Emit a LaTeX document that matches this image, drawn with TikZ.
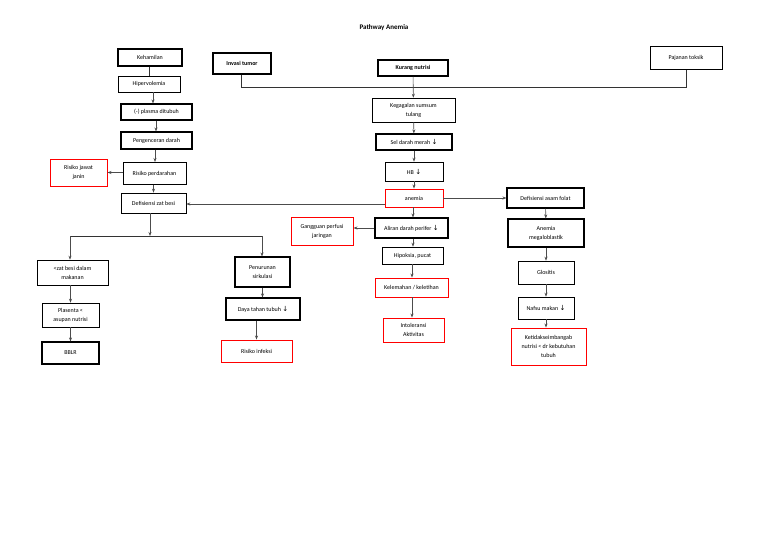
\documentclass[tikz,border=0pt]{standalone}
\usepackage{fontspec}
\setmainfont{Carlito}
\newfontfamily\dvs{DejaVu Sans}
\usetikzlibrary{arrows.meta}
\newcommand{\dn}{{\dvs\scriptsize ↓}}
\begin{document}
\begin{tikzpicture}[x=1pt,y=-1pt,
  bx/.style={draw,line width=0.6pt,align=center,font=\fontsize{6}{9}\selectfont,inner sep=1pt},
  tk/.style={bx,line width=1.1pt},
  rd/.style={bx,draw=red,line width=0.9pt},
  ar/.style={-{Stealth[length=4pt,width=3pt]},draw=black!70,line width=0.6pt},
  ln/.style={draw=black!80,line width=0.7pt}]
\useasboundingbox (0,0) rectangle (768,543);
\node[font=\bfseries\fontsize{7}{8}\selectfont] (title) at (384,28) {Pathway Anemia};
% left column
\node[tk,minimum width=64,minimum height=17] (keh) at (150,57.5) {Kehamilan};
\node[bx,minimum width=62,minimum height=16] (hip) at (149,84) {Hipervolemia};
\node[tk,minimum width=71,minimum height=16] (pla) at (156.5,112) {(-) plasma ditubuh};
\node[tk,minimum width=71,minimum height=17] (pen) at (156.5,140.5) {Pengenceran darah};
\node[bx,minimum width=63,minimum height=22,anchor=north,text height=5pt] (rpd) at (154.5,162) {Risiko perdarahan};
\node[rd,minimum width=57,minimum height=27] (rjj) at (78.5,172.5) {Risiko jawat\\janin};
\node[bx,minimum width=65,minimum height=20] (dzb) at (153.5,203) {Defisiensi zat besi};
\node[bx,minimum width=71,minimum height=25] (zat) at (72.5,272.5) {<zat besi dalam\\makanan};
\node[bx,minimum width=57,minimum height=24] (pls) at (70.5,315) {Plasenta <\\asupan nutrisi};
\node[tk,minimum width=57,minimum height=22] (bblr) at (70.5,353) {BBLR};
\node[tk,minimum width=55,minimum height=30] (psk) at (262.5,272) {Penurunan\\sirkulasi};
\node[tk,minimum width=74,minimum height=22] (dtt) at (263,309) {Daya tahan tubuh \dn};
\node[rd,minimum width=71,minimum height=22] (rif) at (256.5,351) {Risiko infeksi};
% top causes
\node[tk,minimum width=58,minimum height=21,font=\bfseries\fontsize{6}{8}\selectfont] (inv) at (242,63.5) {Invasi tumor};
\node[tk,minimum width=70,minimum height=16,font=\bfseries\fontsize{6}{8}\selectfont] (kur) at (413,68) {Kurang nutrisi};
\node[bx,minimum width=72,minimum height=23,anchor=north,text height=5pt] (paj) at (686,46) {Pajanan toksik};
% center column
\node[bx,minimum width=83,minimum height=24] (keg) at (413.5,110) {Kegagalan sumsum\\tulang};
\node[tk,minimum width=76,minimum height=16] (sdm) at (414,142) {Sel darah merah \dn};
\node[bx,minimum width=58,minimum height=19] (hb) at (414,171.5) {HB \dn};
\node[rd,minimum width=58,minimum height=18] (ane) at (414,198) {anemia};
\node[tk,minimum width=73,minimum height=20] (adp) at (411.5,228) {Aliran darah perifer \dn};
\node[draw=red,line width=0.9pt,align=center,font=\fontsize{6}{9}\selectfont,inner sep=1pt,minimum width=62,minimum height=28] (gpj) at (322,231) {Gangguan perfusi\\jaringan};
\node[bx,minimum width=61,minimum height=17] (hpk) at (412.5,255.5) {Hipoksia, pucat};
\node[rd,minimum width=73,minimum height=19] (kel) at (411.5,287.5) {Kelemahan / keletihan};
\node[rd,minimum width=61,minimum height=24] (int) at (413.5,330) {Intoleransi\\Aktivitas};
% right column
\node[tk,minimum width=77,minimum height=20] (daf) at (545.5,198) {Defisiensi asam folat};
\node[tk,minimum width=76,minimum height=28] (meg) at (546,233) {Anemia\\megaloblastik};
\node[bx,minimum width=56,minimum height=23] (glo) at (546,272.5) {Glositis};
\node[bx,minimum width=56,minimum height=22] (naf) at (546,308) {Nafsu makan \dn};
\node[rd,minimum width=75,minimum height=37] (ket) at (548.5,346.5) {Ketidakseimbangab\\nutrisi < dr kebutuhan\\tubuh};
% connectors
\draw[ln] (keh.south -| 149,0) -- (hip);
\draw[ar] (hip.south -| 153,0) -- (pla.north -| 153,0);
\draw[ar] (pla.south -| 156,0) -- (pen.north -| 156,0);
\draw[ar] (pen.south -| 155,0) -- (rpd.north -| 155,0);
\draw[ar] (rpd.west |- rjj) -- (rjj);
\draw[ar] (rpd.south -| 153.5,0) -- (dzb);
\coordinate (br) at (150,236);
\draw[ar] (dzb.south -| br) -- (br);
\draw[ln] (70,236) -- (262,236);
\draw[ar] (70,236) -- (zat.north -| 70,0);
\draw[ar] (262,236) -- (psk.north -| 262,0);
\draw[ar] (zat.south -| pls) -- (pls);
\draw[ar] (pls) -- (bblr);
\draw[ar] (psk) -- (dtt.north -| psk);
\draw[ar] (dtt.south -| rif) -- (rif);
\coordinate (hl) at (241,87);
\draw[ln] (inv.south -| hl) -- (hl) -- (686,87) -- (paj.south -| 686,0);
\draw[ar] (kur) -- (keg);
\draw[ar] (keg) -- (sdm);
\draw[ar] (sdm) -- (hb);
\draw[ar] (hb) -- (ane);
\draw[ar] (ane.west |- 0,204) -- (dzb.east |- 0,204);
\draw[ar] (ane) -- (daf);
\draw[ar] (ane.south -| 413,0) -- (adp.north -| 413,0);
\draw[ar] (adp) -- (gpj.east |- adp);
\draw[ar] (adp.south -| 413,0) -- (hpk.north -| 413,0);
\draw[ar] (hpk.south -| 412,0) -- (kel.north -| 412,0);
\draw[ar] (kel.south -| 412,0) -- (int.north -| 412,0);
\draw[ar] (daf) -- (meg);
\draw[ar] (meg) -- (glo);
\draw[ar] (glo) -- (naf);
\draw[ar] (naf) -- (ket.north -| naf);
\end{tikzpicture}
\end{document}
